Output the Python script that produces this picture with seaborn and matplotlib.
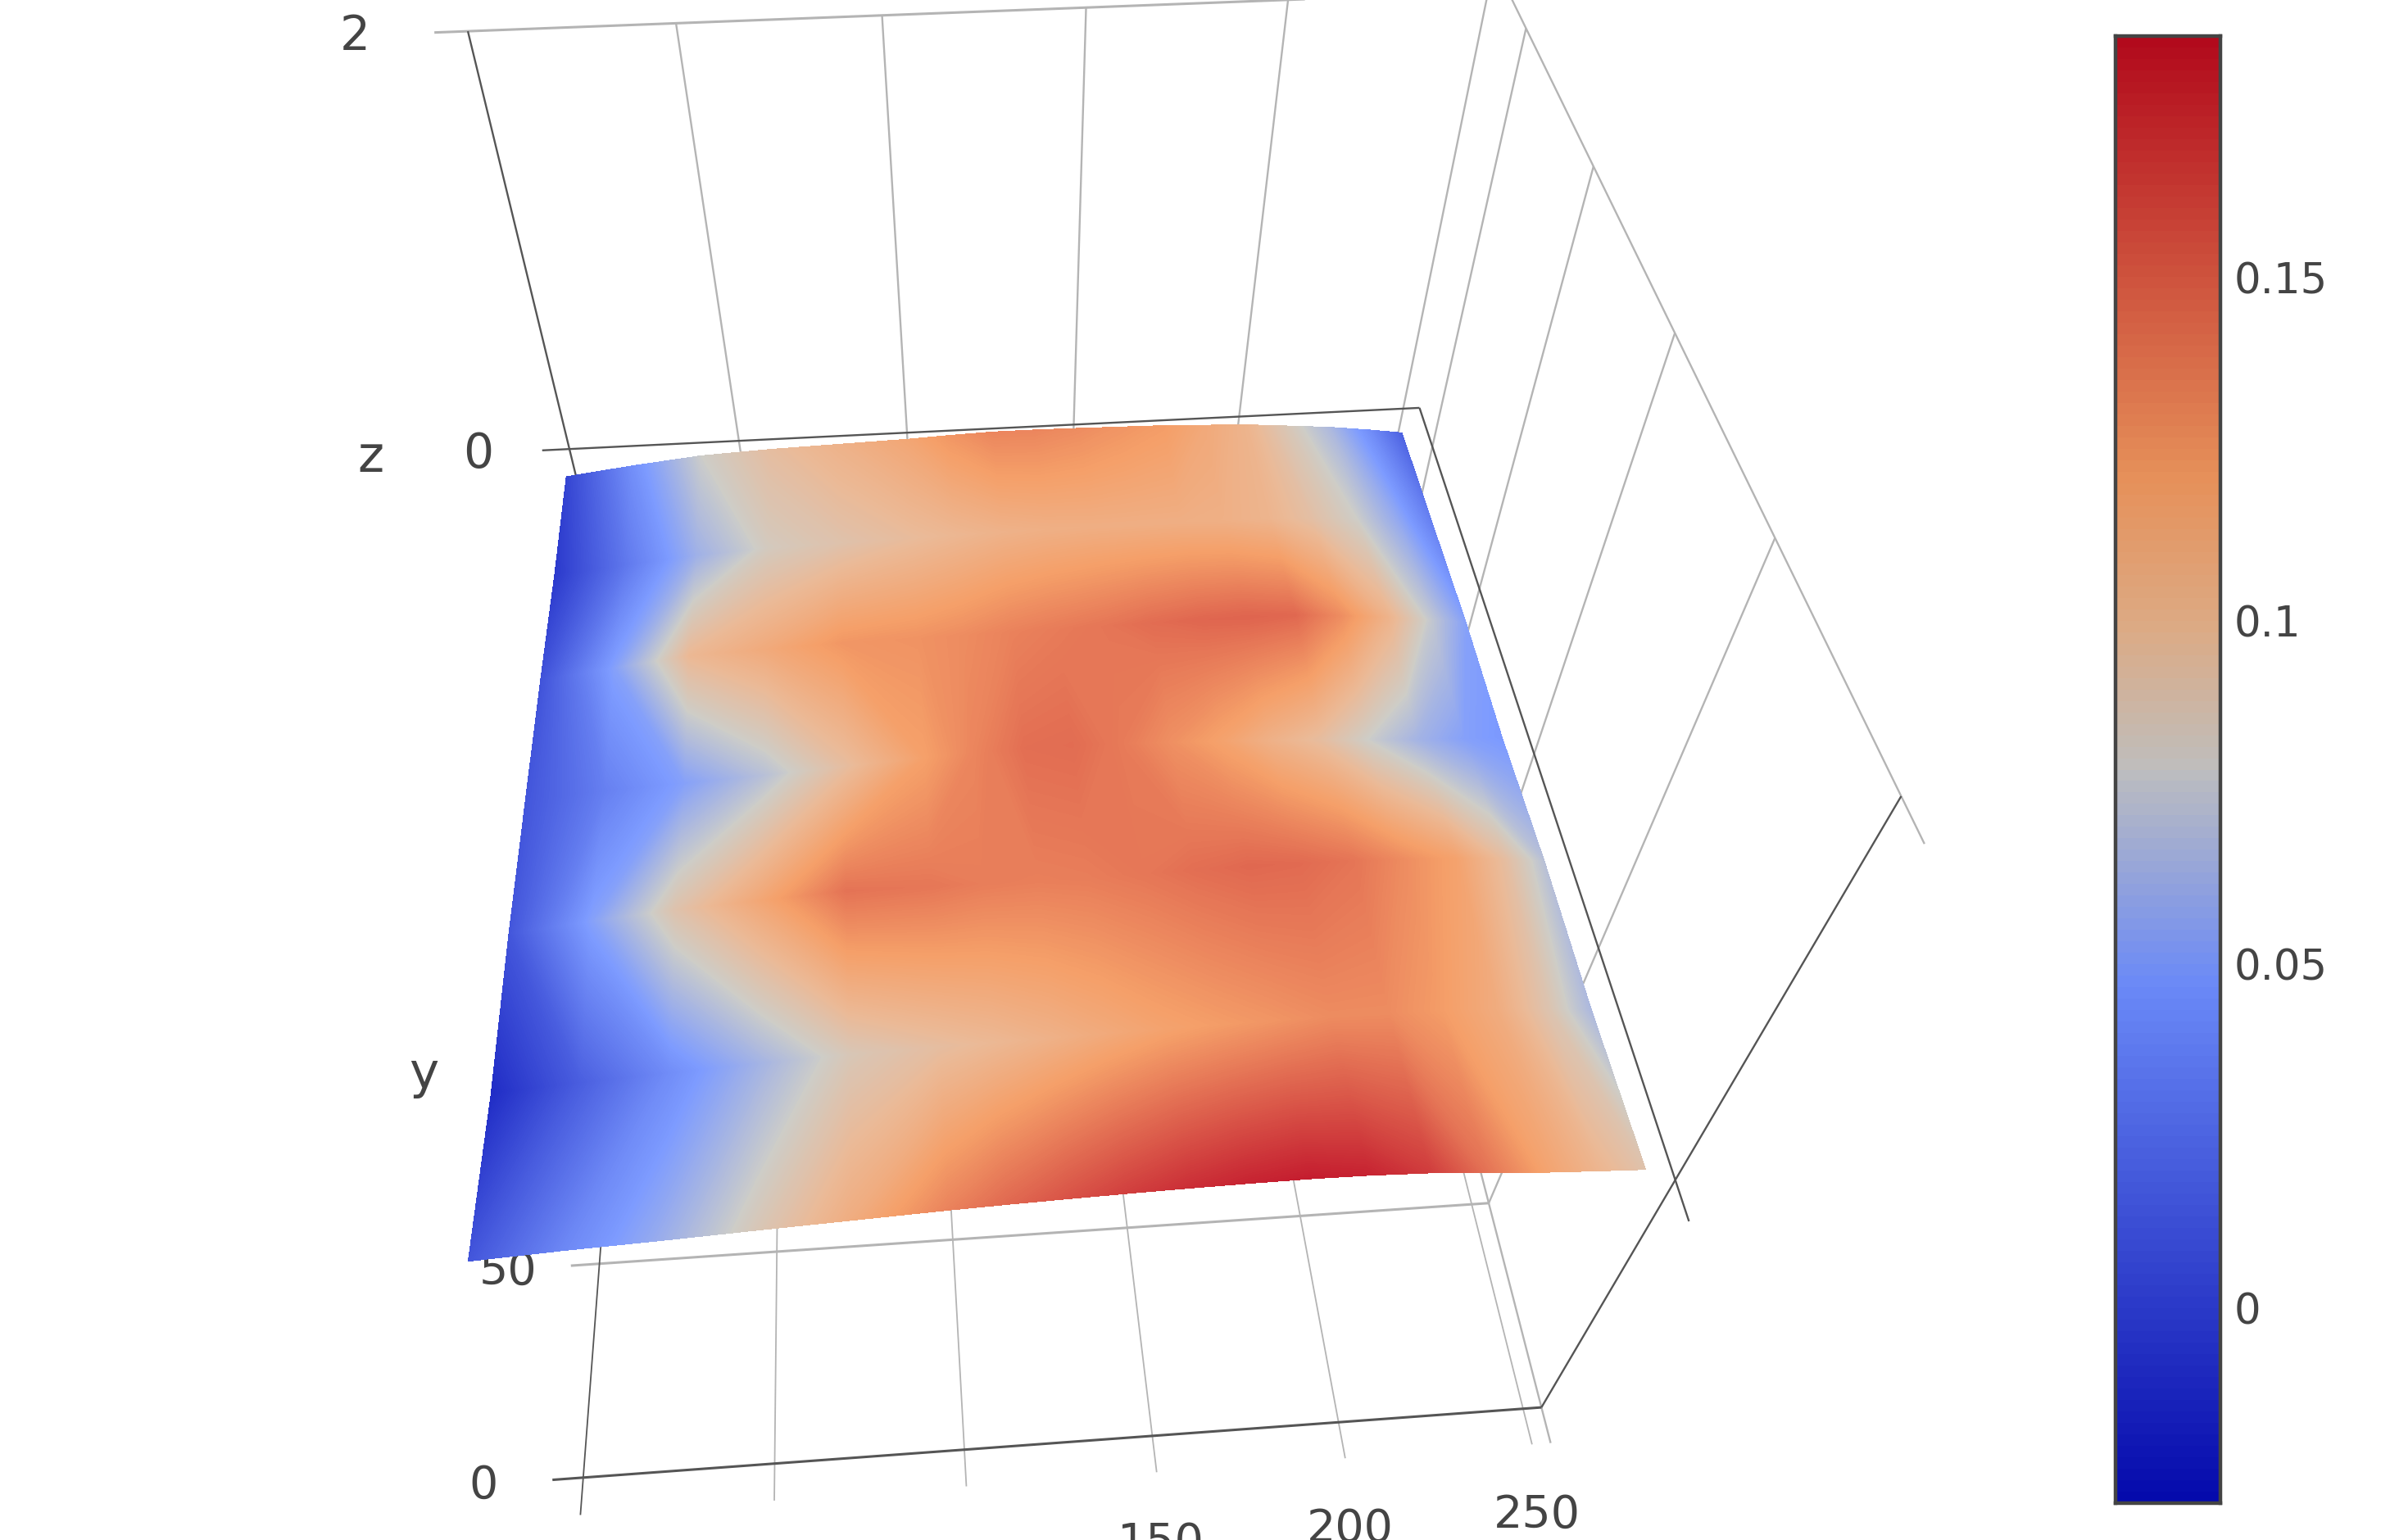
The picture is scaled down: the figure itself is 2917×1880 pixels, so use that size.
"""
Perspective view of a surface with a colour scale, redrawn with seaborn and matplotlib.
"""

import matplotlib
matplotlib.use('agg')
import matplotlib.pyplot as plt
import seaborn as sns
import numpy as np

# Surface data
x_values = [0, 20, 40, 60, 80, 100, 112, 125, 137, 150, 162, 175, 187, 200, 212, 225, 237, 247]
y_values = [0, 34, 69, 103, 137, 171, 205]
row_y0 = [.005, .035, .058, .085, .110, .135, .147, .158, .167, .175, .180, .183, .180, .168, .143, .118, .102, .090]
row_y34 = [-.020, .010, .038, .062, .085, .095, .100, .106, .112, .118, .122, .126, .130, .130, .122, .110, .088, .065]
row_y69 = [.005, .050, .090, .115, .142, .140, .137, .136, .137, .140, .144, .147, .146, .141, .130, .118, .095, .070]
row_y103 = [.005, .030, .050, .070, .095, .120, .133, .144, .145, .138, .128, .118, .106, .095, .078, .062, .050, .045]
row_y137 = [.003, .050, .100, .112, .125, .127, .130, .135, .138, .141, .145, .148, .149, .147, .130, .105, .075, .050]
row_y171 = [-.012, .025, .060, .082, .090, .097, .101, .105, .107, .108, .108, .108, .107, .103, .093, .078, .055, .030]
row_y205 = [-.005, .040, .078, .095, .105, .115, .125, .133, .133, .130, .126, .122, .113, .103, .085, .065, .038, .012]

x_ticks = [50, 100, 150, 200, 250]
x_tick_labels = [150, 200, 250]
y_ticks = [0, 50, 100, 150, 200]
cbar_ticks = [0, 0.05, 0.1, 0.15]
cbar_labels = ["0", "0.05", "0.1", "0.15"]
value_min, value_max = -0.0285, 0.185

# Scene box limits
x_max, y_max = 255, 215
z_min, z_max = -2, 2

# Where scene points land in the picture (reference coordinates), used to fit the camera
camera_points = [
    ((0, y_max, 0), (378, 297)), ((0, y_max, 2), (307, 20)), ((x_max, y_max, 0), (935, 268)),
    ((x_max, 0, 0), (1100, 772)), ((x_max, 0, z_min), (1011, 923)), ((x_max, 0, 2), (1247, 522)),
    ((0, 0, z_min), (381, 970)), ((x_max, 50, z_min), (978, 792)), ((0, 50, z_min), (394, 832)),
    ((x_max, 50, 2), (1165, 355)), ((x_max, 100, 2), (1102, 222)), ((x_max, 150, 2), (1049, 111)),
    ((x_max, 200, 2), (1005, 20)), ((50, y_max, 2), (443, 15)), ((100, y_max, 2), (577, 9)),
    ((150, y_max, 2), (710, 5)), ((200, y_max, 2), (841, 0)), ((50, 0, z_min), (507, 961)),
    ((100, 0, z_min), (631, 952)), ((150, 0, z_min), (755, 943)), ((200, 0, z_min), (877, 933)),
    ((250, 0, z_min), (1000, 924)), ((0, 0, 0), (309, 828)), ((250, y_max, 2), (971, -3)),
    ((250, y_max, 0), (917, 269)), ((50, y_max, 0), (485, 290)), ((150, y_max, 0), (705, 276)),
]

BAR_STOPS = [(0, (5, 10, 172)), (.35, (106, 137, 247)), (.5, (190, 190, 190)),
             (.6, (220, 170, 132)), (.7, (230, 145, 90)), (1, (178, 10, 28))]
LIT_STOPS = [(0, (20, 30, 190)), (.35, (125, 155, 255)), (.5, (205, 205, 200)),
             (.6, (235, 185, 150)), (.7, (245, 160, 105)), (1, (195, 25, 45))]
TEXT = "#444444"
GRID = "#b4b4b4"
DARK = "#555555"

sns.set_theme(style="white")
plt.rcParams['font.family'] = ['DejaVu Sans']


def make_cmap(stops):
    """Builds a colour map with evenly spaced entries from the position/colour stops."""
    positions = [s[0] for s in stops]
    channels = [np.interp(np.linspace(0, 1, 256), positions, [s[1][i] / 255 for s in stops]) for i in range(3)]
    return sns.blend_palette(list(zip(*channels)), n_colors=256, as_cmap=True)


def fit_camera(points):
    """Direct linear fit of a 3x4 projection from the scene/picture pairs."""
    rows = []
    for (x, y, z), (u, v) in points:
        rows.append([x, y, z, 1, 0, 0, 0, 0, -u * x, -u * y, -u * z, -u])
        rows.append([0, 0, 0, 0, x, y, z, 1, -v * x, -v * y, -v * z, -v])
    return np.linalg.svd(np.array(rows, dtype=float))[2][-1].reshape(3, 4)


camera = fit_camera([((p[0] / 100, p[1] / 100, p[2]), s) for p, s in camera_points])


def project(x, y, z):
    x, y, z = np.broadcast_arrays(np.asarray(x, float) / 100, np.asarray(y, float) / 100, np.asarray(z, float))
    pts = np.stack([x, y, z, np.ones_like(x)])
    out = np.tensordot(camera, pts, axes=1)
    return out[0] / out[2], out[1] / out[2]


def segment(ax, a, b, color=GRID, lw=1.7):
    u, v = project([a[0], b[0]], [a[1], b[1]], [a[2], b[2]])
    ax.plot(u, v, color=color, lw=lw, solid_capstyle="butt", zorder=1)


fig = plt.figure(figsize=(29.17, 18.81), dpi=100)
ax = fig.add_axes([0, 0, 1, 1])
ax.set_xlim(0, 1568)
ax.set_ylim(1011.1, 0)
ax.axis("off")

# Scene grid
tick_out = 8
for x in x_ticks:
    segment(ax, (x, -tick_out, z_min), (x, y_max, z_min), lw=1.3)
    segment(ax, (x, y_max, z_min), (x, y_max, z_max))
for y in y_ticks[1:]:
    segment(ax, (-tick_out, y, z_min), (x_max, y, z_min), lw=2.2)
    segment(ax, (x_max, y, z_min), (x_max, y, z_max))
segment(ax, (x_max, -tick_out, z_min), (x_max, y_max, z_min))
segment(ax, (-tick_out, y_max, z_max), (x_max, y_max, z_max), lw=2.2)
segment(ax, (x_max, -tick_out, z_max), (x_max, y_max, z_max))

segment(ax, (-tick_out, 0, z_min), (x_max, 0, z_min), DARK, 2.2)
segment(ax, (0, -tick_out, z_min), (0, y_max, z_min), DARK, 1.3)
segment(ax, (0, y_max, z_min), (0, y_max, z_max), DARK)
segment(ax, (x_max, 0, z_min), (x_max, 0, z_max), DARK)
segment(ax, (-tick_out, y_max, 0), (x_max, y_max, 0), DARK)
segment(ax, (x_max, -tick_out, 0), (x_max, y_max, 0), DARK)

# Tick labels and axis titles, the surface hides part of them
label_shift = [-75, -79, -76, -61, -51]
for y, shift in zip(y_ticks, label_shift):
    u, v = project(0, y, z_min)
    ax.text(u + shift, v + 5, str(y), ha="left", va="center", fontsize=40, color=TEXT, zorder=1)
for x in x_tick_labels:
    u, v = project(x, -tick_out, z_min)
    ax.text(u + 3, v + 46, str(x), ha="center", va="center", fontsize=40, color=TEXT, zorder=1)
u, v = project(0, y_max, 0)
ax.text(u - 60, v + 3, "0", ha="center", va="center", fontsize=42, color=TEXT)
u, v = project(0, y_max, 2)
ax.text(u - 74, v + 3, "2", ha="center", va="center", fontsize=42, color=TEXT)
ax.text(243, 301, "z", ha="center", va="center", fontsize=44, color=TEXT)
ax.text(278, 705, "y", ha="center", va="center", fontsize=44, color=TEXT)

# Surface, values interpolated by contourf across the projected grid
values = np.array([row_y0, row_y34, row_y69, row_y103, row_y137, row_y171, row_y205])
grid_x, grid_y = np.meshgrid(x_values, y_values)
screen_u, screen_v = project(grid_x, grid_y, values)
lit_cmap = make_cmap(LIT_STOPS)
ax.contourf(screen_u, screen_v, values, levels=np.linspace(value_min, value_max, 256),
            cmap=lit_cmap, antialiased=False, zorder=2, extend="both")

# Colour scale
cax = fig.add_axes([2582 / 2917, 1 - 1836 / 1881, 128 / 2917, (1836 - 45) / 1881])
bar_values = np.linspace(value_max, value_min, 128).reshape(-1, 1)
sns.heatmap(bar_values, ax=cax, cmap=make_cmap(BAR_STOPS), vmin=value_min, vmax=value_max, cbar=False,
            xticklabels=False, yticklabels=False)
for spine in cax.spines.values():
    spine.set_visible(True)
    spine.set_color("#444444")
    spine.set_linewidth(3.2)
cax.yaxis.tick_right()
cax.set_yticks([(value_max - t) / (value_max - value_min) * 128 for t in cbar_ticks])
cax.set_yticklabels(cbar_labels, fontsize=37, color=TEXT, rotation=0)
cax.tick_params(axis="y", length=0, pad=12, right=False, left=False)

fig.savefig("out.png", dpi=100)
